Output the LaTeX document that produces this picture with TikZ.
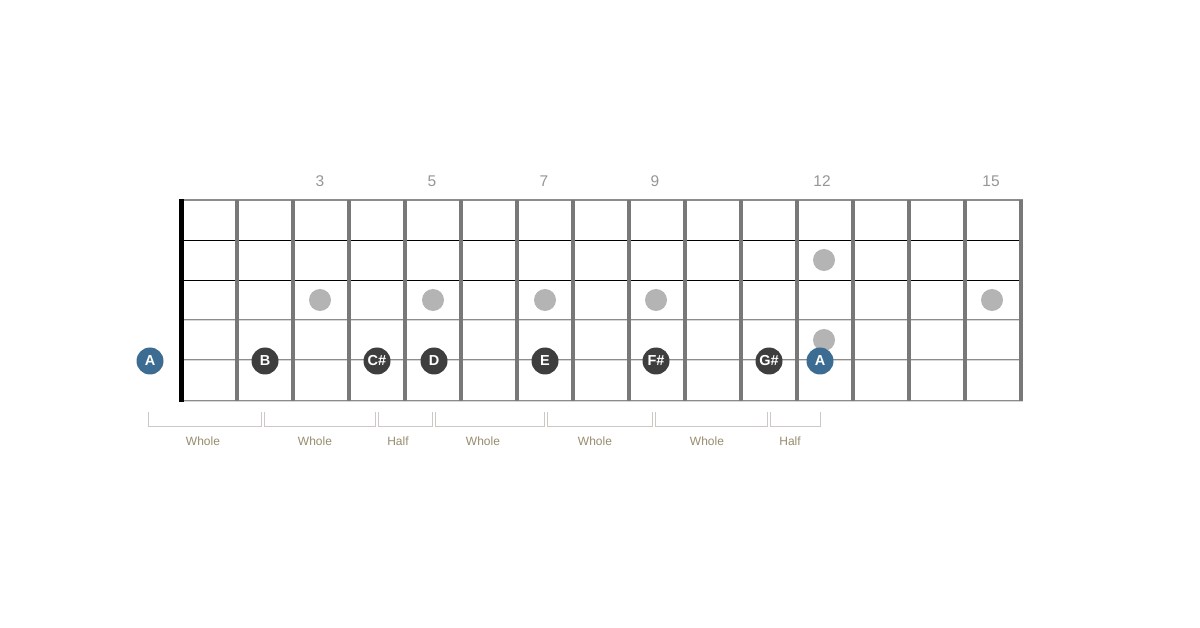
\documentclass[tikz,border=0pt]{standalone}
\usepackage{fontspec}
\setmainfont{Liberation Sans}
\definecolor{fretgray}{RGB}{120,120,120}
\definecolor{strgray}{RGB}{140,140,140}
\definecolor{strlight}{RGB}{215,215,215}
\definecolor{inlay}{RGB}{180,180,180}
\definecolor{notedark}{RGB}{62,62,62}
\definecolor{noteblue}{RGB}{60,108,145}
\definecolor{numgray}{RGB}{150,150,150}
\definecolor{brk}{RGB}{205,200,195}
\definecolor{lbl}{RGB}{150,140,110}
\begin{document}
\begin{tikzpicture}[x=1pt,y=-1pt,
  fret/.style={draw=fretgray,line width=4pt},
  thinstr/.style={draw=black,line width=0.9pt},
  thickstr/.style={draw=strgray,line width=2.4pt,postaction={draw=strlight,line width=0.7pt}},
  dot/.style={circle,fill=inlay,minimum size=22pt,inner sep=0pt},
  note/.style={circle,fill=notedark,minimum size=27pt,inner sep=0pt,text=white,font=\bfseries\fontsize{14.5}{14.5}\selectfont},
  root/.style={note,fill=noteblue},
  fnum/.style={text=numgray,font=\fontsize{15.5}{15.5}\selectfont},
  brkline/.style={draw=brk,line width=0.9pt},
  ilbl/.style={text=lbl,font=\fontsize{12}{12}\selectfont}]
\useasboundingbox (0,0) rectangle (1200,628);
\fill[white] (0,0) rectangle (1200,628);
% strings
\draw[draw=strgray,line width=1.2pt] (181,200) -- (1023,200);
\draw[thinstr] (181,240) -- (1023,240);
\draw[thinstr] (181,280) -- (1023,280);
\draw[thickstr] (181,320) -- (1023,320);
\draw[thickstr] (181,360) -- (1023,360);
\draw[thickstr] (181,401) -- (1023,401);
% frets
\foreach \k in {1,...,15} {
  \draw[fret] ({181+56*\k},200) -- ({181+56*\k},401);
}
% nut
\draw[draw=black,line width=5pt] (181,199) -- (181,402);
% fret numbers
\node[fnum] (n3) at (320,181) {3};
\node[fnum] (n5) at (432,181) {5};
\node[fnum] (n7) at (544,181) {7};
\node[fnum] (n9) at (655,181) {9};
\node[fnum] (n12) at (822,181) {12};
\node[fnum] (n15) at (991,181) {15};
% inlays
\node[dot] (d3) at (320,300) {};
\node[dot] (d5) at (433,300) {};
\node[dot] (d7) at (545,300) {};
\node[dot] (d9) at (656,300) {};
\node[dot] (d12a) at (824,260) {};
\node[dot] (d12b) at (824,340) {};
\node[dot] (d15) at (992,300) {};
% notes
\node[root] (A0) at (150,361) {A};
\node[note] (B) at (265,361) {B};
\node[note] (Cs) at (377,361) {C\#};
\node[note] (D) at (434,361) {D};
\node[note] (E) at (545,361) {E};
\node[note] (Fs) at (656,361) {F\#};
\node[note] (Gs) at (769,361) {G\#};
\node[root] (A12) at (820,361) {A};
% interval brackets
\foreach \a/\b in {148/261,264/375,378/432,435/544,547/652,655/767,770/820} {
  \draw[brkline] (\a,412) -- (\a,426) -- (\b,426) -- (\b,412);
}
\node[ilbl] (w1) at (203,441) {Whole};
\node[ilbl] (w2) at (315,441) {Whole};
\node[ilbl] (h1) at (398,441) {Half};
\node[ilbl] (w3) at (483,441) {Whole};
\node[ilbl] (w4) at (595,441) {Whole};
\node[ilbl] (w5) at (707,441) {Whole};
\node[ilbl] (h2) at (790,441) {Half};
\end{tikzpicture}
\end{document}
